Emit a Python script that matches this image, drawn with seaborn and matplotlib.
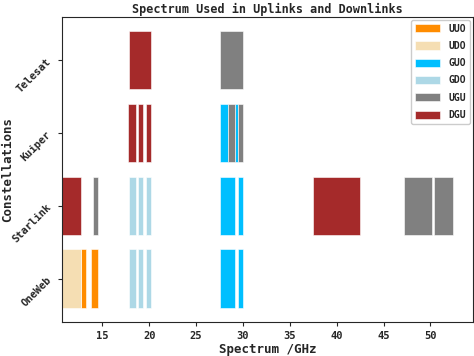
import matplotlib
matplotlib.use("Agg")
import matplotlib.pyplot as plt
import seaborn as sns
import pandas as pd

# constellations on the y axis, bottom to top
constellations = ["OneWeb", "Starlink", "Kuiper", "Telesat"]

# one entry per frequency block
band_row = ["OneWeb", "OneWeb", "OneWeb", "OneWeb", "OneWeb", "OneWeb", "OneWeb", "OneWeb",
            "Starlink", "Starlink", "Starlink", "Starlink", "Starlink", "Starlink", "Starlink",
            "Starlink", "Starlink", "Starlink",
            "Kuiper", "Kuiper", "Kuiper", "Kuiper", "Kuiper", "Kuiper", "Kuiper",
            "Telesat", "Telesat"]
band_start = [10.7, 12.75, 13.75, 17.8, 18.8, 19.7, 27.5, 29.5,
              10.7, 14.0, 17.8, 18.8, 19.7, 27.5, 29.5, 37.5, 47.2, 50.4,
              17.7, 18.8, 19.7, 27.5, 28.35, 29.1, 29.5,
              17.8, 27.5]
band_end = [12.7, 13.25, 14.5, 18.6, 19.3, 20.2, 29.1, 30.0,
            12.7, 14.5, 18.6, 19.3, 20.2, 29.1, 30.0, 42.5, 50.2, 52.4,
            18.6, 19.3, 20.2, 28.35, 29.1, 29.5, 30.0,
            20.2, 30.0]
band_type = ["UDO", "UUO", "UUO", "GDO", "GDO", "GDO", "GUO", "GUO",
             "DGU", "UGU", "GDO", "GDO", "GDO", "GUO", "GUO", "DGU", "UGU", "UGU",
             "DGU", "DGU", "DGU", "GUO", "UGU", "GUO", "UGU",
             "DGU", "UGU"]

link_types = ["UUO", "UDO", "GUO", "GDO", "UGU", "DGU"]
link_colors = ["darkorange", "wheat", "deepskyblue", "lightblue", "gray", "brown"]

df = pd.DataFrame({"row": band_row, "start": band_start, "end": band_end, "type": band_type})
df["width"] = df["end"] - df["start"]
df["y"] = df["row"].map({c: i for i, c in enumerate(constellations)})

sns.set_style("ticks")
plt.rcParams["font.family"] = ["DejaVu Sans Mono"]
plt.rcParams["font.weight"] = "bold"

fig = plt.figure(figsize=(4.74, 3.56), dpi=100)
ax = fig.add_axes([0.131, 0.095, 0.866, 0.858])

palette = dict(zip(link_types, link_colors))
for t in link_types:
    sub = df[df["type"] == t]
    ax.barh(sub["y"], sub["width"], left=sub["start"], height=0.8,
            color=palette[t], edgecolor="white", linewidth=0.4, label=t)

ax.set_xlim(10.7, 54.5)
ax.set_ylim(-0.6, 3.6)
ax.set_xticks([15, 20, 25, 30, 35, 40, 45, 50])
ax.set_yticks(range(len(constellations)))
ax.set_yticklabels(constellations, rotation=45, fontsize=7.5, fontweight="bold")
ax.tick_params(axis="x", labelsize=7.5, length=3)
ax.tick_params(axis="y", length=3)
for s in ax.spines.values():
    s.set_linewidth(0.8)

ax.set_title("Spectrum Used in Uplinks and Downlinks", fontsize=8.5, fontweight="bold", pad=3)
ax.set_xlabel("Spectrum /GHz", fontsize=9, fontweight="bold", labelpad=1)
ax.set_ylabel("Constellations", fontsize=9, fontweight="bold")
ax.yaxis.set_label_coords(-0.117, 0.5)

ax.legend(loc="upper right", fontsize=7, handlelength=2.6, handleheight=0.9,
          borderaxespad=0.3, labelspacing=0.75, framealpha=1)

fig.savefig("out.png", dpi=100)
